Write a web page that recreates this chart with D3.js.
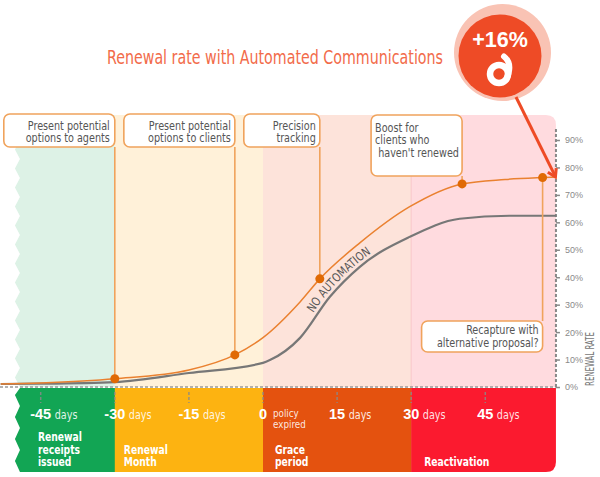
<!DOCTYPE html>
<html><head><meta charset="utf-8">
<script src="https://cdn.jsdelivr.net/npm/d3@7/dist/d3.min.js"></script>
<style>
body{margin:0;background:#fff;}
svg{display:block;}
text{font-family:"Liberation Sans Narrow","DejaVu Sans Condensed","Liberation Sans",sans-serif;}
</style></head><body>
<svg id="chart" width="600" height="477"></svg>
<script>
// ---------------- DATA ----------------
const titleText = "Renewal rate with Automated Communications";
const badgeText = "+16%";
const axisTitle = "RENEWAL RATE";
const dayTicks = [-45, -30, -15, 0, 15, 30, 45];
const dayTickLabels = ["-45", "-30", "-15", "0", "15", "30", "45"];
const dayUnitLabels = ["days", "days", "days", "", "days", "days", "days"];
const zeroNote = ["policy", "expired"];
const pctTicks = [0, 10, 20, 30, 40, 50, 60, 70, 80, 90];
const phaseStart = [-49.2, -30, 0, 30];
const phaseEnd = [-30, 0, 30, 59.3];
const phaseNames = [["Renewal", "receipts", "issued"], ["Renewal", "Month"], ["Grace", "period"], ["Reactivation"]];
// Renewal rate (%) by day, with automated communications
const autoDays = [-53.1, -45, -30, -15, -5.7, 0, 7.5, 11.5, 19.6, 29.7, 40.3, 49, 56.6, 59.4];
const autoRate = [1.1, 1.5, 3.0, 6.2, 11.7, 18.0, 31.0, 39.4, 52.5, 65.7, 74.0, 75.6, 76.3, 76.5];
// Renewal rate (%) by day, no automation
const baseDays = [-53.1, -45, -30, -15, 0, 1.5, 7.5, 13.5, 19.6, 29.7, 39.8, 49.9, 59.4];
const baseRate = [1.1, 1.2, 1.8, 5.1, 8.8, 9.9, 17.9, 32.8, 43.8, 54.7, 61.3, 62.4, 62.4];
const baseLabel = "NO AUTOMATION";
// Callouts on the automation curve
const calloutDays = [-30, -5.7, 11.5, 40.3, 56.6];
const calloutRate = [3.0, 11.7, 39.4, 74.0, 76.3];
const calloutText = [
  ["Present potential", "options to agents"],
  ["Present potential", "options to clients"],
  ["Precision", "tracking"],
  ["Boost for", "clients who", " haven't renewed"],
  ["Recapture with", "alternative proposal?"]
];

// ---------------- COLOURS / LAYOUT ----------------
const lightBg = ["#DDF2E6", "#FFF1D9", "#FDE3DA", "#FFDBDF"];
const bandCol = ["#12A554", "#FDB311", "#E4520F", "#FB1A2F"];
const plotTop = 115, plotBottom = 387, bandTop = 388, bandBottom = 472;
const svg = d3.select("#chart");

const x = d3.scaleLinear().domain([-45, 45]).range([40.7, 485.3]);
const y = d3.scaleLinear().domain([0, 90]).range([387, 140]);
const axisX = x(phaseEnd[3]);

// condensed-font emulation: measure a reference string and derive a squeeze factor
function measure(str, size, weight) {
  const t = svg.append("text").attr("font-size", size).attr("font-weight", weight || "normal").text(str);
  const w = t.node().getComputedTextLength(); t.remove(); return w;
}
const kReg = 82 / measure("Present potential", 12.5);
const kBold = 44 / measure("Renewal", 13, "bold");
function squeeze(sel, k) {
  const w = sel.node().getComputedTextLength();
  sel.attr("textLength", w * k).attr("lengthAdjust", "spacingAndGlyphs");
  return sel;
}

function zigPath(x0, x1, top, bottom, amp, period, roundTR, roundBR) {
  const p = d3.path(); const r = 10;
  p.moveTo(x0 + amp, top);
  if (roundTR) { p.lineTo(x1 - r, top); p.quadraticCurveTo(x1, top, x1, top + r); } else p.lineTo(x1, top);
  if (roundBR) { p.lineTo(x1, bottom - r); p.quadraticCurveTo(x1, bottom, x1 - r, bottom); } else p.lineTo(x1, bottom);
  p.lineTo(x0 + amp, bottom);
  let yy = bottom, tip = true;
  while (yy - period / 2 > top) { yy -= period / 2; p.lineTo(tip ? x0 : x0 + amp, yy); tip = !tip; }
  p.lineTo(x0 + amp, top); p.closePath();
  return p.toString();
}
function rectPath(x0, x1, top, bottom, roundTR, roundBR) {
  const p = d3.path(); const r = 10;
  p.moveTo(x0, top);
  if (roundTR) { p.lineTo(x1 - r, top); p.quadraticCurveTo(x1, top, x1, top + r); } else p.lineTo(x1, top);
  if (roundBR) { p.lineTo(x1, bottom - r); p.quadraticCurveTo(x1, bottom, x1 - r, bottom); } else p.lineTo(x1, bottom);
  p.lineTo(x0, bottom); p.closePath();
  return p.toString();
}

// light background phases
phaseStart.forEach((s, i) => {
  const x0 = x(s), x1 = x(phaseEnd[i]);
  svg.append("path")
    .attr("d", i === 0 ? zigPath(x0 - 5, x1, plotTop, plotBottom, 5, 19, false, false)
                       : rectPath(x0, x1, plotTop, plotBottom, i === 3, false))
    .attr("fill", lightBg[i]);
});
svg.append("line").attr("x1", x(30)).attr("x2", x(30)).attr("y1", plotTop).attr("y2", plotBottom)
  .attr("stroke", "#F9C6C8").attr("stroke-width", 1);

// bottom coloured bands
phaseStart.forEach((s, i) => {
  const x0 = x(s), x1 = x(phaseEnd[i]);
  svg.append("path")
    .attr("d", i === 0 ? zigPath(x0 - 5, x1 + 0.5, bandTop, bandBottom, 5, 22, false, false)
                       : rectPath(x0, x1 + (i < 3 ? 0.5 : 0), bandTop, bandBottom, false, i === 3))
    .attr("fill", bandCol[i]);
});

// bottom dashed ticks
svg.selectAll(".dtick").data(dayTicks).enter().append("line")
  .attr("x1", d => x(d)).attr("x2", d => x(d)).attr("y1", 392).attr("y2", 403)
  .attr("stroke", "#8a8a8a").attr("stroke-width", 1.5).attr("stroke-dasharray", "3,2").attr("opacity", 0.85);

// day labels
dayTicks.forEach((d, i) => {
  const t = svg.append("text").attr("x", x(d)).attr("y", 419).attr("text-anchor", "middle")
    .style("font-family", "'Liberation Sans',sans-serif").attr("font-weight", "bold")
    .attr("font-size", 14.5).attr("fill", "#fff").text(dayTickLabels[i]);
  const w = t.node().getComputedTextLength();
  if (dayUnitLabels[i]) {
    squeeze(svg.append("text").attr("x", x(d) + w / 2 + 3.5).attr("y", 419).attr("font-size", 12.5)
      .attr("fill", "#fff").attr("fill-opacity", 0.88).text(dayUnitLabels[i]), kReg);
  } else {
    zeroNote.forEach((n, j) => {
      squeeze(svg.append("text").attr("x", x(d) + w / 2 + 6).attr("y", 417 + j * 10.5).attr("font-size", 10.5)
        .attr("fill", "#fff").attr("fill-opacity", 0.88).text(n), kReg * 1.08);
    });
  }
});

// phase names
const phaseInset = [18, 9, 12, 13];
phaseNames.forEach((lines, i) => {
  const n = lines.length;
  lines.forEach((ln, j) => {
    squeeze(svg.append("text").attr("x", x(phaseStart[i]) + phaseInset[i])
      .attr("y", 466 - (n - 1 - j) * 12.3)
      .attr("font-size", 13).attr("font-weight", "bold").attr("fill", "#fff").text(ln), kBold);
  });
});

// baseline dashed
svg.append("line").attr("x1", 0).attr("x2", axisX).attr("y1", y(0)).attr("y2", y(0))
  .attr("stroke", "#999").attr("stroke-width", 1.5).attr("stroke-dasharray", "3,2");

// right axis
svg.append("line").attr("x1", axisX).attr("x2", axisX).attr("y1", 129).attr("y2", y(0) + 1)
  .attr("stroke", "#888").attr("stroke-width", 2).attr("stroke-dasharray", "3,2");
const yAxis = svg.append("g").attr("transform", `translate(${axisX},0)`)
  .call(d3.axisRight(y).tickValues(pctTicks).tickSize(4).tickPadding(5).tickFormat(d => d + "%"));
yAxis.select(".domain").remove();
yAxis.selectAll(".tick line").attr("stroke", "#888").attr("stroke-width", 1.5);
yAxis.selectAll(".tick text").attr("fill", "#8a8a8a").attr("font-size", 9)
  .style("font-family", "'Liberation Sans',sans-serif");
svg.append("text").attr("transform", `translate(${594},${386}) rotate(-90)`)
  .attr("font-size", 12).attr("fill", "#777").attr("textLength", 54).attr("lengthAdjust", "spacingAndGlyphs")
  .text(axisTitle);

// curves
const line = d3.line().x(d => x(d[0])).y(d => y(d[1])).curve(d3.curveMonotoneX);
const baseData = baseDays.map((d, i) => [d, baseRate[i]]);
const autoData = autoDays.map((d, i) => [d, autoRate[i]]);
svg.append("path").attr("id", "basePath").attr("d", line(baseData)).attr("fill", "none")
  .attr("stroke", "#777").attr("stroke-width", 2.2);
svg.append("path").attr("d", line(autoData)).attr("fill", "none")
  .attr("stroke", "#EA8130").attr("stroke-width", 1.5);

// label along base curve
const bp = d3.select("#basePath").node();
const totalL = bp.getTotalLength();
let off = 0;
for (let L = 0; L < totalL; L += 0.5) { if (bp.getPointAtLength(L).x >= 342) { off = L; break; } }
const nlab = svg.append("text").attr("font-size", 12).attr("fill", "#555").attr("dy", -4);
const ntp = nlab.append("textPath").attr("href", "#basePath").attr("startOffset", off).attr("text-anchor", "middle")
  .text(baseLabel);
ntp.attr("textLength", measure(baseLabel, 12) * kReg * 1.04).attr("lengthAdjust", "spacingAndGlyphs");

// callouts
const boxLayout = [
  { w: 111, top: 114, h: 33, align: "end", pad: 5, b0: 15.5, lh: 12 },
  { w: 111, top: 114, h: 33, align: "end", pad: 4, b0: 15.5, lh: 12 },
  { w: 76, top: 114, h: 33, align: "end", pad: 4, b0: 15.5, lh: 12 },
  { w: 91, top: 115, h: 61, align: "start", pad: 4, b0: 17, lh: 12.3 },
  { w: 121, top: 321, h: 31, align: "end", pad: 4, b0: 12.5, lh: 13.5 }
];
const calloutStroke = "#F0A35C";
calloutDays.forEach((d, i) => {
  const L = boxLayout[i];
  const xr = x(d), xl = xr - L.w, py = y(calloutRate[i]);
  const y1 = L.top > py ? L.top : L.top + L.h;
  svg.append("line").attr("x1", xr).attr("x2", xr).attr("y1", y1).attr("y2", py)
    .attr("stroke", calloutStroke).attr("stroke-width", 1.6);
  svg.append("rect").attr("x", xl).attr("y", L.top).attr("width", L.w).attr("height", L.h)
    .attr("rx", 6).attr("fill", "#fff").attr("stroke", calloutStroke).attr("stroke-width", 1.6);
  calloutText[i].forEach((t, j) => {
    squeeze(svg.append("text").attr("x", L.align === "end" ? xr - L.pad : xl + L.pad)
      .attr("y", L.top + L.b0 + j * L.lh).attr("text-anchor", L.align)
      .attr("font-size", 12.5).attr("fill", "#555").style("white-space", "pre").text(t), kReg);
  });
});
svg.selectAll(".dot").data(calloutDays).enter().append("circle")
  .attr("cx", d => x(d)).attr("cy", (d, i) => y(calloutRate[i])).attr("r", 4.5).attr("fill", "#E06A05");

// title
svg.append("text").attr("x", 107).attr("y", 64).attr("font-size", 19.5).attr("fill", "#F26B4A")
  .attr("textLength", 336).attr("lengthAdjust", "spacingAndGlyphs").text(titleText);

// badge
svg.append("circle").attr("cx", 502.5).attr("cy", 52.5).attr("r", 48.5).attr("fill", "#F9C3B4");
svg.append("circle").attr("cx", 500).attr("cy", 56).attr("r", 41.5).attr("fill", "#EE4B26");
svg.append("text").attr("x", 500).attr("y", 47).attr("text-anchor", "middle")
  .style("font-family", "'Liberation Sans',sans-serif").attr("font-weight", "bold")
  .attr("font-size", 21.5).attr("fill", "#fff").text(badgeText);
svg.append("circle").attr("cx", 499).attr("cy", 74).attr("r", 9).attr("fill", "none")
  .attr("stroke", "#fff").attr("stroke-width", 6.5);
svg.append("path").attr("d", "M 506.5 79 C 510 71, 511 62, 504 56.5").attr("fill", "none")
  .attr("stroke", "#fff").attr("stroke-width", 6).attr("stroke-linecap", "round");

// arrow to end of automation curve
const tipX = x(autoDays[autoDays.length - 1]) - 1, tipY = y(autoRate[autoRate.length - 1]);
const sx = 516, sy = 97;
svg.append("line").attr("x1", sx).attr("y1", sy).attr("x2", tipX - 0.5).attr("y2", tipY - 1.5)
  .attr("stroke", "#EE4B26").attr("stroke-width", 3);
const ang = Math.atan2(tipY - sy, tipX - sx);
const ah = 9, aw = 0.55;
svg.append("path").attr("d",
  `M ${tipX - ah * Math.cos(ang - aw)} ${tipY - ah * Math.sin(ang - aw)} L ${tipX} ${tipY} L ${tipX - ah * Math.cos(ang + aw)} ${tipY - ah * Math.sin(ang + aw)}`)
  .attr("fill", "none").attr("stroke", "#EE4B26").attr("stroke-width", 3).attr("stroke-linejoin", "miter");
</script>
</body></html>
